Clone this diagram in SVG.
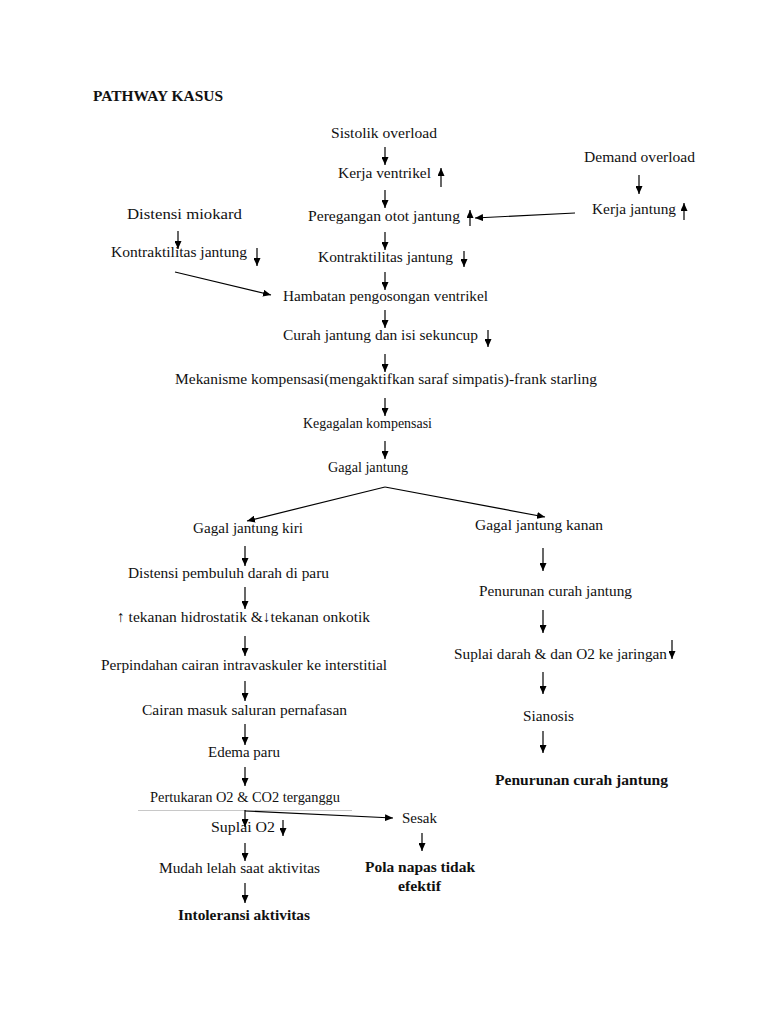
<svg xmlns="http://www.w3.org/2000/svg" width="768" height="1024" viewBox="0 0 768 1024">
<defs>
<marker id="ah" markerUnits="userSpaceOnUse" markerWidth="8" markerHeight="7" refX="8" refY="3.5" orient="auto">
<path d="M0,0 L8,3.5 L0,7 z" fill="#000"/>
</marker>
</defs>
<style>
text{font-family:"Liberation Serif","Times New Roman",serif;font-size:15.5px;fill:#111}
.b{font-weight:bold}
.t{font-size:15px;font-weight:bold}
.c{stroke:#000;stroke-width:1.2;fill:none;marker-end:url(#ah)}
.box{stroke:#c8c8c8;stroke-width:1;fill:none}
</style>
<rect width="768" height="1024" fill="#fff"/>
<text class="t" x="93" y="101" textLength="130" lengthAdjust="spacingAndGlyphs">PATHWAY KASUS</text>

<g id="n-sistolik"><text x="331" y="138" textLength="106" lengthAdjust="spacingAndGlyphs">Sistolik overload</text></g>
<g id="n-kerja-ventrikel"><text x="338" y="178" textLength="93" lengthAdjust="spacingAndGlyphs">Kerja ventrikel</text><line class="c" x1="441" y1="187" x2="441" y2="168"/></g>
<g id="n-peregangan"><text x="308" y="221" textLength="152" lengthAdjust="spacingAndGlyphs">Peregangan otot jantung</text><line class="c" x1="470" y1="226" x2="470" y2="210"/></g>
<g id="n-demand"><text x="584" y="162" textLength="111" lengthAdjust="spacingAndGlyphs">Demand overload</text></g>
<g id="n-kerja-jantung"><text x="592" y="214" textLength="84" lengthAdjust="spacingAndGlyphs">Kerja jantung</text><line class="c" x1="684" y1="220" x2="684" y2="203"/></g>
<g id="n-distensi-miokard"><text x="127" y="219" textLength="115" lengthAdjust="spacingAndGlyphs">Distensi miokard</text></g>
<g id="n-kontraktilitas-kiri"><text x="111" y="257" textLength="136" lengthAdjust="spacingAndGlyphs">Kontraktilitas jantung</text><line class="c" x1="257" y1="248" x2="257" y2="266"/></g>
<g id="n-kontraktilitas"><text x="318" y="262" textLength="135" lengthAdjust="spacingAndGlyphs">Kontraktilitas jantung</text><line class="c" x1="464" y1="251" x2="464" y2="267"/></g>
<g id="n-hambatan"><text x="283" y="301" textLength="205" lengthAdjust="spacingAndGlyphs">Hambatan pengosongan ventrikel</text></g>
<g id="n-curah"><text x="283" y="340" textLength="195" lengthAdjust="spacingAndGlyphs">Curah jantung dan isi sekuncup</text><line class="c" x1="488" y1="330" x2="488" y2="347"/></g>
<g id="n-mekanisme"><text x="175" y="384" textLength="422" lengthAdjust="spacingAndGlyphs">Mekanisme kompensasi(mengaktifkan saraf simpatis)-frank starling</text></g>
<g id="n-kegagalan"><text x="303" y="428" textLength="129" lengthAdjust="spacingAndGlyphs">Kegagalan kompensasi</text></g>
<g id="n-gagal"><text x="328" y="472" textLength="80" lengthAdjust="spacingAndGlyphs">Gagal jantung</text></g>
<g id="n-kiri"><text x="193" y="533" textLength="110" lengthAdjust="spacingAndGlyphs">Gagal jantung kiri</text></g>
<g id="n-kanan"><text x="475" y="530" textLength="128" lengthAdjust="spacingAndGlyphs">Gagal jantung kanan</text></g>
<g id="n-distensi-pembuluh"><text x="128" y="578" textLength="201" lengthAdjust="spacingAndGlyphs">Distensi pembuluh darah di paru</text></g>
<g id="n-tekanan"><text x="117" y="622" textLength="253" lengthAdjust="spacingAndGlyphs">↑ tekanan hidrostatik &amp;↓tekanan onkotik</text></g>
<g id="n-perpindahan"><text x="101" y="670" textLength="286" lengthAdjust="spacingAndGlyphs">Perpindahan cairan intravaskuler ke interstitial</text></g>
<g id="n-cairan"><text x="142" y="715" textLength="205" lengthAdjust="spacingAndGlyphs">Cairan masuk saluran pernafasan</text></g>
<g id="n-edema"><text x="208" y="757" textLength="72" lengthAdjust="spacingAndGlyphs">Edema paru</text></g>
<g id="n-pertukaran"><line class="box" x1="138" y1="810.5" x2="352" y2="810.5"/><text x="150" y="802" textLength="190" lengthAdjust="spacingAndGlyphs">Pertukaran O2 &amp; CO2 terganggu</text></g>
<g id="n-suplai-o2"><text x="211" y="832" textLength="64" lengthAdjust="spacingAndGlyphs">Suplai O2</text><line class="c" x1="283" y1="820" x2="283" y2="836"/></g>
<g id="n-sesak"><text x="402" y="823" textLength="35" lengthAdjust="spacingAndGlyphs">Sesak</text></g>
<g id="n-pola"><text class="b" x="365" y="872" textLength="110" lengthAdjust="spacingAndGlyphs">Pola napas tidak</text><text class="b" x="398" y="891" textLength="43" lengthAdjust="spacingAndGlyphs">efektif</text></g>
<g id="n-mudah"><text x="159" y="873" textLength="161" lengthAdjust="spacingAndGlyphs">Mudah lelah saat aktivitas</text></g>
<g id="n-intoleransi"><text class="b" x="178" y="920" textLength="132" lengthAdjust="spacingAndGlyphs">Intoleransi aktivitas</text></g>
<g id="n-penurunan"><text x="479" y="596" textLength="153" lengthAdjust="spacingAndGlyphs">Penurunan curah jantung</text></g>
<g id="n-suplai-darah"><text x="454" y="659" textLength="213" lengthAdjust="spacingAndGlyphs">Suplai darah &amp; dan O2 ke jaringan</text><line class="c" x1="672" y1="640" x2="672" y2="659"/></g>
<g id="n-sianosis"><text x="523" y="721" textLength="51" lengthAdjust="spacingAndGlyphs">Sianosis</text></g>
<g id="n-penurunan-dx"><text class="b" x="495" y="785" textLength="173" lengthAdjust="spacingAndGlyphs">Penurunan curah jantung</text></g>

<g id="connectors">
<line class="c" x1="385" y1="147" x2="385" y2="165"/>
<line class="c" x1="385" y1="190" x2="385" y2="208"/>
<line class="c" x1="639" y1="175" x2="639" y2="194"/>
<line class="c" x1="575" y1="213" x2="475" y2="218"/>
<line class="c" x1="178" y1="231" x2="178" y2="249"/>
<line class="c" x1="385" y1="232" x2="385" y2="250"/>
<line class="c" x1="385" y1="272" x2="385" y2="290"/>
<line class="c" x1="175" y1="272" x2="271" y2="295"/>
<line class="c" x1="385" y1="310" x2="385" y2="328"/>
<line class="c" x1="385" y1="354" x2="385" y2="372"/>
<line class="c" x1="385" y1="398" x2="385" y2="416"/>
<line class="c" x1="385" y1="441" x2="385" y2="459"/>
<polyline class="c" points="385,487 247,521"/>
<polyline class="c" points="385,487 545,517"/>
<line class="c" x1="245" y1="546" x2="245" y2="566"/>
<line class="c" x1="245" y1="587" x2="245" y2="609"/>
<line class="c" x1="245" y1="636" x2="245" y2="656"/>
<line class="c" x1="245" y1="681" x2="245" y2="701"/>
<line class="c" x1="245" y1="724" x2="245" y2="745"/>
<line class="c" x1="245" y1="767" x2="245" y2="786"/>
<line class="c" x1="245" y1="810" x2="245" y2="827"/>
<line class="c" x1="245" y1="811" x2="393" y2="818"/>
<line class="c" x1="422" y1="833" x2="422" y2="851"/>
<line class="c" x1="245" y1="843" x2="245" y2="861"/>
<line class="c" x1="245" y1="883" x2="245" y2="903"/>
<line class="c" x1="543" y1="548" x2="543" y2="571"/>
<line class="c" x1="543" y1="610" x2="543" y2="633"/>
<line class="c" x1="543" y1="672" x2="543" y2="694"/>
<line class="c" x1="543" y1="731" x2="543" y2="753"/>
</g>
</svg>
